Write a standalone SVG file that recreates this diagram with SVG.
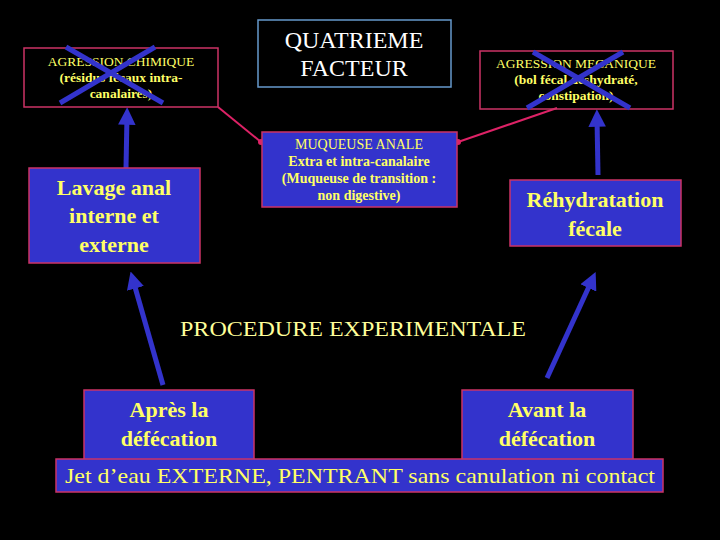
<svg xmlns="http://www.w3.org/2000/svg" width="720" height="540" viewBox="0 0 720 540">
<defs>
<style>
.t{font-family:"Liberation Serif",serif;fill:#ffff66;text-anchor:middle}
.b{font-weight:bold}
.box{fill:#3333cc;stroke:#cc3366;stroke-width:1.5}
.obox{fill:none;stroke:#cc3366;stroke-width:1.5}
.ar{stroke:#3333cc;stroke-width:5;fill:none;marker-end:url(#ah)}
.x{stroke:#3333cc;stroke-width:5}
.pl{stroke:#dd2266;stroke-width:2}
</style>
<marker id="ah" viewBox="0 0 10 10" refX="5" refY="5" markerWidth="3.5" markerHeight="3.5" orient="auto"><path d="M0,0L10,5L0,10z" fill="#3333cc"/></marker>
</defs>
<rect width="720" height="540" fill="#000"/>
<g id="connectors">
<line class="pl" x1="218" y1="107" x2="261" y2="142"/><circle cx="261" cy="142" r="3" fill="#dd2266"/>
<line class="pl" x1="557" y1="108" x2="458" y2="142"/><circle cx="458" cy="142" r="3" fill="#dd2266"/>
<line class="ar" x1="126" y1="168" x2="127" y2="116"/>
<line class="ar" x1="163" y1="385" x2="133" y2="280"/>
<line class="ar" x1="598" y1="175" x2="597" y2="118"/>
<line class="ar" x1="547" y1="378" x2="592" y2="280"/>
</g>
<g id="chimique">
<rect class="obox" x="24" y="48" width="194" height="59"/>
<text class="t" font-size="13.5"><tspan x="121" y="66">AGRESSION CHIMIQUE</tspan><tspan x="121" y="82" class="b">(résidus fécaux intra-</tspan><tspan x="121" y="98" class="b">canalaires)</tspan></text>
<line class="x" x1="60" y1="103" x2="155" y2="47"/><line class="x" x1="66" y1="47" x2="163" y2="103"/>
</g>
<g id="quatrieme">
<rect x="258" y="20" width="193" height="67" fill="none" stroke="#6699cc" stroke-width="1.5"/>
<text class="t" font-size="24" style="fill:#fff"><tspan x="354" y="48">QUATRIEME</tspan><tspan x="354" y="76">FACTEUR</tspan></text>
</g>
<g id="mecanique">
<rect class="obox" x="480" y="51" width="193" height="58"/>
<text class="t" font-size="13.5"><tspan x="576" y="68">AGRESSION MECANIQUE</tspan><tspan x="576" y="84" class="b">(bol fécal déshydraté,</tspan><tspan x="576" y="100" class="b">constipation)</tspan></text>
<line class="x" x1="533" y1="52" x2="630" y2="108"/><line class="x" x1="623" y1="52" x2="527" y2="108"/>
</g>
<g id="muqueuse">
<rect class="box" x="262" y="132" width="195" height="75"/>
<text class="t" font-size="14"><tspan x="359" y="149">MUQUEUSE ANALE</tspan><tspan x="359" y="166" class="b">Extra et intra-canalaire</tspan><tspan x="359" y="183" class="b">(Muqueuse de transition :</tspan><tspan x="359" y="200" class="b">non digestive)</tspan></text>
</g>
<g id="lavage">
<rect class="box" x="29" y="168" width="171" height="95"/>
<text class="t b" font-size="22"><tspan x="114" y="195">Lavage anal</tspan><tspan x="114" y="223">interne et</tspan><tspan x="114" y="252">externe</tspan></text>
</g>
<g id="rehydratation">
<rect class="box" x="510" y="180" width="171" height="66"/>
<text class="t b" font-size="22"><tspan x="595" y="207">Réhydratation</tspan><tspan x="595" y="236">fécale</tspan></text>
</g>
<text x="180" y="336" font-family="Liberation Serif,serif" font-size="22" fill="#ffff99" textLength="346" lengthAdjust="spacingAndGlyphs">PROCEDURE EXPERIMENTALE</text>
<g id="apres">
<rect class="box" x="84" y="390" width="170" height="70"/>
<text class="t b" font-size="22"><tspan x="169" y="417">Après la</tspan><tspan x="169" y="446">défécation</tspan></text>
</g>
<g id="avant">
<rect class="box" x="462" y="390" width="171" height="70"/>
<text class="t b" font-size="22"><tspan x="547" y="417">Avant la</tspan><tspan x="547" y="446">défécation</tspan></text>
</g>
<g id="jet">
<rect class="box" x="56" y="459" width="607" height="33"/>
<text class="t" font-size="22" x="360" y="483" textLength="590" lengthAdjust="spacingAndGlyphs">Jet d’eau EXTERNE, PENTRANT sans canulation ni contact</text>
</g>
</svg>
